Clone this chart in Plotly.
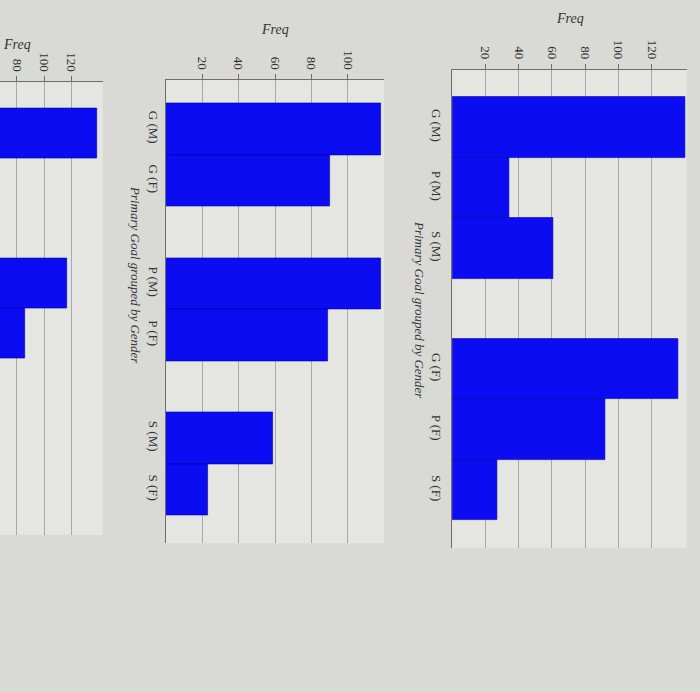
import plotly.graph_objects as go

# ---- data ----
labels_by_gender = ["G (M)", "P (M)", "S (M)", "G (F)", "P (F)", "S (F)"]
freq_chart1 = [140, 34, 61, 136, 92, 27]

labels_by_goal = ["G (M)", "G (F)", "P (M)", "P (F)", "S (M)", "S (F)"]
freq_chart2 = [118, 90, 118, 89, 59, 23]
freq_chart3 = [139, 55, 117, 86, 50, 24]

value_ticks_1 = [20, 40, 60, 80, 100, 120]
value_ticks_2 = [20, 40, 60, 80, 100]
value_ticks_3 = [80, 100, 120]

axis_title = "Freq"
cat_title = "Primary Goal grouped by Gender"

FONT = "Liberation Serif, DejaVu Serif, serif"
BLUE = "#0c0cf2"
GRID = "#a9a9a7"
AXIS = "#6e6e6e"

def slots(n, group):
    return [i + i // group for i in range(n)]

pos1 = slots(len(labels_by_gender), 3)
pos2 = slots(len(labels_by_goal), 2)

fig = go.Figure()
for vals, pos, xa, ya in [(freq_chart1, pos1, "x", "y"),
                          (freq_chart2, pos2, "x2", "y2"),
                          (freq_chart3, pos2, "x3", "y3")]:
    fig.add_trace(go.Bar(x=vals, y=pos, orientation="h", width=1,
                         marker=dict(color=BLUE, line=dict(width=0.6, color="#0000a0")),
                         xaxis=xa, yaxis=ya, showlegend=False, hoverinfo="x"))

def xaxis(domain, rng, ticks, anchor):
    return dict(domain=domain, range=rng, side="top", anchor=anchor,
                tickvals=ticks, ticktext=[str(t) for t in ticks], tickangle=90,
                ticks="outside", ticklen=5, tickcolor=AXIS,
                showline=True, linecolor=AXIS, linewidth=1,
                showgrid=True, gridcolor=GRID, gridwidth=1, zeroline=False,
                tickfont=dict(family=FONT, size=13, color="#333"))

def yaxis(domain, rng, pos, labels, anchor, standoff):
    return dict(domain=domain, range=rng, anchor=anchor,
                tickvals=pos, ticktext=labels, tickangle=90,
                ticks="", showline=True, linecolor=AXIS, linewidth=1,
                showgrid=False, zeroline=False, ticklabelstandoff=standoff,
                tickfont=dict(family=FONT, size=13, color="#333"))

fig.update_layout(
    width=700, height=692,
    margin=dict(l=0, r=0, t=0, b=0),
    paper_bgcolor="#d9d9d6",
    plot_bgcolor="#e5e5e2",
    bargap=0,
    xaxis=xaxis([0.646, 0.981], [0, 141], value_ticks_1, "y"),
    yaxis=yaxis([0.208, 0.899], [6.96, -0.95], pos1, labels_by_gender, "x", 4),
    xaxis2=xaxis([0.237, 0.549], [0, 120], value_ticks_2, "y2"),
    yaxis2=yaxis([0.215, 0.884], [8.04, -0.95], pos2, labels_by_goal, "x2", 0),
    xaxis3=xaxis([0.0, 0.147], [67.6, 143], value_ticks_3, "y3"),
    yaxis3=yaxis([0.227, 0.881], [8.04, -1.02], pos2, ["", "", "", "", "", ""], "x3", 0),
)

ann = []
# "Freq" titles
for x, y, xa in [(570, 18, "center"), (275, 30, "center"), (1, 45, "left")]:
    ann.append(dict(text="<i>" + axis_title + "</i>", x=x / 700, y=1 - y / 692,
                    xref="paper", yref="paper", showarrow=False,
                    xanchor=xa, yanchor="middle",
                    font=dict(family=FONT, size=14, color="#333")))
# category titles (rotated)
for x, y in [(420, 310), (136, 275)]:
    ann.append(dict(text="<i>" + cat_title + "</i>", x=x / 700, y=1 - y / 692,
                    xref="paper", yref="paper", showarrow=False, textangle=90,
                    xanchor="center", yanchor="middle",
                    font=dict(family=FONT, size=13, color="#333")))
fig.update_layout(annotations=ann)

fig.write_html("out.html", config={"displayModeBar": False},
               post_script="document.body.style.margin='0';document.body.style.background='#d9d9d6';")
